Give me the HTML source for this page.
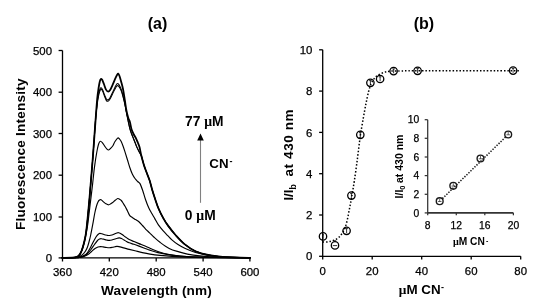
<!DOCTYPE html>
<html><head><meta charset="utf-8"><title>Fluorescence spectra</title>
<style>html,body{margin:0;padding:0;background:#fff;width:550px;height:308px;overflow:hidden}</style>
</head><body>
<svg width="550" height="308" viewBox="0 0 550 308" style="display:block">
<rect width="550" height="308" fill="#fff"/>
<g fill="none" stroke="#000" stroke-linejoin="round" stroke-linecap="round">
<path d="M62.20,257.70 C64.50,257.68 73.03,257.67 76.00,257.60 C78.97,257.53 78.67,257.50 80.00,257.30 C81.33,257.10 82.67,256.87 84.00,256.40 C85.33,255.93 86.75,255.32 88.00,254.50 C89.25,253.68 90.33,252.50 91.50,251.50 C92.67,250.50 93.92,249.25 95.00,248.50 C96.08,247.75 97.08,247.32 98.00,247.00 C98.92,246.68 99.67,246.62 100.50,246.60 C101.33,246.58 102.08,246.77 103.00,246.90 C103.92,247.03 104.92,247.27 106.00,247.40 C107.08,247.53 108.42,247.72 109.50,247.70 C110.58,247.68 111.58,247.47 112.50,247.30 C113.42,247.13 114.27,246.85 115.00,246.70 C115.73,246.55 116.23,246.42 116.90,246.40 C117.57,246.38 118.15,246.43 119.00,246.60 C119.85,246.77 120.92,247.10 122.00,247.40 C123.08,247.70 124.30,248.07 125.50,248.40 C126.70,248.73 127.62,249.00 129.20,249.40 C130.78,249.80 132.82,250.27 135.00,250.80 C137.18,251.33 139.80,252.05 142.30,252.60 C144.80,253.15 147.05,253.63 150.00,254.10 C152.95,254.57 156.33,255.02 160.00,255.40 C163.67,255.78 167.00,256.10 172.00,256.40 C177.00,256.70 182.83,257.00 190.00,257.20 C197.17,257.40 205.00,257.52 215.00,257.60 C225.00,257.68 244.17,257.68 250.00,257.70" stroke-width="1.15"/>
<path d="M62.20,257.70 C64.50,257.68 73.03,257.68 76.00,257.60 C78.97,257.52 78.67,257.47 80.00,257.20 C81.33,256.93 82.75,256.62 84.00,256.00 C85.25,255.38 86.33,254.58 87.50,253.50 C88.67,252.42 89.83,251.00 91.00,249.50 C92.17,248.00 93.42,246.00 94.50,244.50 C95.58,243.00 96.67,241.42 97.50,240.50 C98.33,239.58 98.85,239.30 99.50,239.00 C100.15,238.70 100.65,238.65 101.40,238.70 C102.15,238.75 103.15,239.08 104.00,239.30 C104.85,239.52 105.58,239.82 106.50,240.00 C107.42,240.18 108.50,240.43 109.50,240.40 C110.50,240.37 111.58,240.03 112.50,239.80 C113.42,239.57 114.17,239.27 115.00,239.00 C115.83,238.73 116.77,238.38 117.50,238.20 C118.23,238.02 118.73,237.83 119.40,237.90 C120.07,237.97 120.73,238.25 121.50,238.60 C122.27,238.95 123.17,239.52 124.00,240.00 C124.83,240.48 125.63,241.03 126.50,241.50 C127.37,241.97 127.95,242.33 129.20,242.80 C130.45,243.27 132.37,243.75 134.00,244.30 C135.63,244.85 137.25,245.45 139.00,246.10 C140.75,246.75 142.58,247.48 144.50,248.20 C146.42,248.92 148.25,249.67 150.50,250.40 C152.75,251.13 155.08,251.90 158.00,252.60 C160.92,253.30 164.33,254.02 168.00,254.60 C171.67,255.18 175.50,255.70 180.00,256.10 C184.50,256.50 189.17,256.77 195.00,257.00 C200.83,257.23 205.83,257.38 215.00,257.50 C224.17,257.62 244.17,257.67 250.00,257.70" stroke-width="1.15"/>
<path d="M62.20,257.70 C64.50,257.68 73.03,257.70 76.00,257.60 C78.97,257.50 78.67,257.43 80.00,257.10 C81.33,256.77 82.75,256.37 84.00,255.60 C85.25,254.83 86.42,253.85 87.50,252.50 C88.58,251.15 89.50,249.33 90.50,247.50 C91.50,245.67 92.58,243.25 93.50,241.50 C94.42,239.75 95.25,238.17 96.00,237.00 C96.75,235.83 97.38,235.10 98.00,234.50 C98.62,233.90 99.03,233.52 99.70,233.40 C100.37,233.28 101.20,233.57 102.00,233.80 C102.80,234.03 103.67,234.55 104.50,234.80 C105.33,235.05 106.17,235.18 107.00,235.30 C107.83,235.42 108.67,235.55 109.50,235.50 C110.33,235.45 111.17,235.25 112.00,235.00 C112.83,234.75 113.70,234.33 114.50,234.00 C115.30,233.67 116.12,233.22 116.80,233.00 C117.48,232.78 117.97,232.62 118.60,232.70 C119.23,232.78 119.90,233.12 120.60,233.50 C121.30,233.88 121.98,234.42 122.80,235.00 C123.62,235.58 124.43,236.25 125.50,237.00 C126.57,237.75 127.78,238.75 129.20,239.50 C130.62,240.25 132.37,240.82 134.00,241.50 C135.63,242.18 137.25,242.88 139.00,243.60 C140.75,244.32 142.58,244.98 144.50,245.80 C146.42,246.62 148.15,247.50 150.50,248.50 C152.85,249.50 155.68,250.83 158.60,251.80 C161.52,252.77 164.43,253.60 168.00,254.30 C171.57,255.00 175.50,255.57 180.00,256.00 C184.50,256.43 189.17,256.67 195.00,256.90 C200.83,257.13 205.83,257.27 215.00,257.40 C224.17,257.53 244.17,257.65 250.00,257.70" stroke-width="1.15"/>
<path d="M62.20,257.70 C64.17,257.68 71.37,257.72 74.00,257.60 C76.63,257.48 76.75,257.37 78.00,257.00 C79.25,256.63 80.42,256.15 81.50,255.40 C82.58,254.65 83.58,253.68 84.50,252.50 C85.42,251.32 86.25,250.05 87.00,248.30 C87.75,246.55 88.37,244.30 89.00,242.00 C89.63,239.70 90.17,237.48 90.80,234.50 C91.43,231.52 92.13,227.68 92.80,224.10 C93.47,220.52 94.18,216.02 94.80,213.00 C95.42,209.98 95.97,207.85 96.50,206.00 C97.03,204.15 97.50,202.90 98.00,201.90 C98.50,200.90 98.98,200.37 99.50,200.00 C100.02,199.63 100.48,199.43 101.10,199.70 C101.72,199.97 102.50,200.98 103.20,201.60 C103.90,202.22 104.67,202.97 105.30,203.40 C105.93,203.83 106.42,203.97 107.00,204.20 C107.58,204.43 108.18,204.87 108.80,204.80 C109.42,204.73 110.05,204.18 110.70,203.80 C111.35,203.42 111.95,203.08 112.70,202.50 C113.45,201.92 114.35,200.97 115.20,200.30 C116.05,199.63 117.07,198.68 117.80,198.50 C118.53,198.32 119.02,198.87 119.60,199.20 C120.18,199.53 120.70,199.82 121.30,200.50 C121.90,201.18 122.55,202.30 123.20,203.30 C123.85,204.30 124.48,205.22 125.20,206.50 C125.92,207.78 126.73,209.48 127.50,211.00 C128.27,212.52 129.05,214.55 129.80,215.60 C130.55,216.65 131.05,216.63 132.00,217.30 C132.95,217.97 134.35,218.85 135.50,219.60 C136.65,220.35 137.73,220.82 138.90,221.80 C140.07,222.78 141.35,224.25 142.50,225.50 C143.65,226.75 144.62,228.08 145.80,229.30 C146.98,230.52 148.27,231.52 149.60,232.80 C150.93,234.08 152.07,235.42 153.80,237.00 C155.53,238.58 157.43,240.40 160.00,242.30 C162.57,244.20 166.03,246.80 169.20,248.40 C172.37,250.00 175.97,250.95 179.00,251.90 C182.03,252.85 183.90,253.43 187.40,254.10 C190.90,254.77 195.40,255.42 200.00,255.90 C204.60,256.38 209.17,256.72 215.00,257.00 C220.83,257.28 229.17,257.45 235.00,257.60 C240.83,257.75 247.50,257.85 250.00,257.90" stroke-width="1.15"/>
<path d="M62.20,257.80 C64.00,257.78 70.53,257.82 73.00,257.70 C75.47,257.58 75.92,257.47 77.00,257.10 C78.08,256.73 78.75,256.43 79.50,255.50 C80.25,254.57 80.87,253.08 81.50,251.50 C82.13,249.92 82.72,248.00 83.30,246.00 C83.88,244.00 84.47,241.83 85.00,239.50 C85.53,237.17 86.03,234.58 86.50,232.00 C86.97,229.42 87.38,227.00 87.80,224.00 C88.22,221.00 88.60,217.33 89.00,214.00 C89.40,210.67 89.82,207.17 90.20,204.00 C90.58,200.83 90.92,198.17 91.30,195.00 C91.68,191.83 92.05,189.00 92.50,185.00 C92.95,181.00 93.55,174.83 94.00,171.00 C94.45,167.17 94.82,164.67 95.20,162.00 C95.58,159.33 95.92,157.25 96.30,155.00 C96.68,152.75 97.08,150.42 97.50,148.50 C97.92,146.58 98.32,144.70 98.80,143.50 C99.28,142.30 99.82,141.45 100.40,141.30 C100.98,141.15 101.62,141.85 102.30,142.60 C102.98,143.35 103.77,144.77 104.50,145.80 C105.23,146.83 106.00,148.10 106.70,148.80 C107.40,149.50 108.02,150.10 108.70,150.00 C109.38,149.90 110.10,148.92 110.80,148.20 C111.50,147.48 112.20,146.82 112.90,145.70 C113.60,144.58 114.18,142.80 115.00,141.50 C115.82,140.20 117.03,138.28 117.80,137.90 C118.57,137.52 119.03,138.60 119.60,139.20 C120.17,139.80 120.60,140.28 121.20,141.50 C121.80,142.72 122.52,144.60 123.20,146.50 C123.88,148.40 124.58,150.65 125.30,152.90 C126.02,155.15 126.75,157.57 127.50,160.00 C128.25,162.43 129.00,165.17 129.80,167.50 C130.60,169.83 131.43,172.17 132.30,174.00 C133.17,175.83 134.10,177.25 135.00,178.50 C135.90,179.75 136.87,180.65 137.70,181.50 C138.53,182.35 139.17,182.10 140.00,183.60 C140.83,185.10 141.80,187.90 142.70,190.50 C143.60,193.10 144.42,196.37 145.40,199.20 C146.38,202.03 147.58,205.20 148.60,207.50 C149.62,209.80 150.47,211.15 151.50,213.00 C152.53,214.85 153.65,216.62 154.80,218.60 C155.95,220.58 157.03,222.90 158.40,224.90 C159.77,226.90 161.48,228.85 163.00,230.60 C164.52,232.35 166.02,233.85 167.50,235.40 C168.98,236.95 170.15,238.37 171.90,239.90 C173.65,241.43 175.77,243.15 178.00,244.60 C180.23,246.05 182.38,247.28 185.30,248.60 C188.22,249.92 191.72,251.38 195.50,252.50 C199.28,253.62 203.58,254.58 208.00,255.30 C212.42,256.02 216.67,256.42 222.00,256.80 C227.33,257.18 235.33,257.42 240.00,257.60 C244.67,257.78 248.33,257.85 250.00,257.90" stroke-width="1.15"/>
<path d="M62.20,257.80 C63.83,257.78 69.70,257.80 72.00,257.70 C74.30,257.60 74.83,257.58 76.00,257.20 C77.17,256.82 78.08,256.43 79.00,255.40 C79.92,254.37 80.78,252.65 81.50,251.00 C82.22,249.35 82.72,247.58 83.30,245.50 C83.88,243.42 84.50,241.00 85.00,238.50 C85.50,236.00 85.90,233.50 86.30,230.50 C86.70,227.50 87.03,224.08 87.40,220.50 C87.77,216.92 88.15,212.75 88.50,209.00 C88.85,205.25 89.08,202.83 89.50,198.00 C89.92,193.17 90.45,186.67 91.00,180.00 C91.55,173.33 92.23,165.33 92.80,158.00 C93.37,150.67 93.90,142.83 94.40,136.00 C94.90,129.17 95.30,122.50 95.80,117.00 C96.30,111.50 96.88,106.75 97.40,103.00 C97.92,99.25 98.43,96.63 98.90,94.50 C99.37,92.37 99.82,91.08 100.20,90.20 C100.58,89.32 100.78,89.03 101.20,89.20 C101.62,89.37 102.13,89.98 102.70,91.20 C103.27,92.42 103.98,94.93 104.60,96.50 C105.22,98.07 105.85,99.82 106.40,100.60 C106.95,101.38 107.32,101.43 107.90,101.20 C108.48,100.97 109.15,100.37 109.90,99.20 C110.65,98.03 111.57,95.87 112.40,94.20 C113.23,92.53 114.15,90.58 114.90,89.20 C115.65,87.82 116.32,86.43 116.90,85.90 C117.48,85.37 117.88,85.62 118.40,86.00 C118.92,86.38 119.47,87.23 120.00,88.20 C120.53,89.17 121.05,90.20 121.60,91.80 C122.15,93.40 122.75,95.68 123.30,97.80 C123.85,99.92 124.37,102.00 124.90,104.50 C125.43,107.00 125.97,110.08 126.50,112.80 C127.03,115.52 127.53,118.13 128.10,120.80 C128.67,123.47 129.32,126.60 129.90,128.80 C130.48,131.00 131.02,132.38 131.60,134.00 C132.18,135.62 132.80,137.00 133.40,138.50 C134.00,140.00 134.62,141.53 135.20,143.00 C135.78,144.47 136.27,145.87 136.90,147.30 C137.53,148.73 138.27,150.18 139.00,151.60 C139.73,153.02 140.48,153.57 141.30,155.80 C142.12,158.03 143.02,162.22 143.90,165.00 C144.78,167.78 145.62,169.83 146.60,172.50 C147.58,175.17 148.88,178.17 149.80,181.00 C150.72,183.83 151.20,186.47 152.10,189.50 C153.00,192.53 154.13,196.03 155.20,199.20 C156.27,202.37 157.12,205.27 158.50,208.50 C159.88,211.73 161.88,215.70 163.50,218.60 C165.12,221.50 166.20,223.17 168.20,225.90 C170.20,228.63 172.78,231.97 175.50,235.00 C178.22,238.03 181.17,241.40 184.50,244.10 C187.83,246.80 191.55,249.38 195.50,251.20 C199.45,253.02 203.67,254.07 208.20,255.00 C212.73,255.93 217.40,256.37 222.70,256.80 C228.00,257.23 235.45,257.43 240.00,257.60 C244.55,257.77 248.33,257.77 250.00,257.80" stroke-width="1.05"/>
<path d="M62.20,257.80 C63.83,257.78 69.70,257.80 72.00,257.70 C74.30,257.60 74.83,257.58 76.00,257.20 C77.17,256.82 78.08,256.43 79.00,255.40 C79.92,254.37 80.78,252.65 81.50,251.00 C82.22,249.35 82.72,247.58 83.30,245.50 C83.88,243.42 84.50,241.00 85.00,238.50 C85.50,236.00 85.90,233.50 86.30,230.50 C86.70,227.50 87.03,224.08 87.40,220.50 C87.77,216.92 88.15,212.75 88.50,209.00 C88.85,205.25 89.08,202.83 89.50,198.00 C89.92,193.17 90.45,186.67 91.00,180.00 C91.55,173.33 92.23,165.33 92.80,158.00 C93.37,150.67 93.90,142.83 94.40,136.00 C94.90,129.17 95.32,122.67 95.80,117.00 C96.28,111.33 96.80,106.00 97.30,102.00 C97.80,98.00 98.33,95.20 98.80,93.00 C99.27,90.80 99.72,89.67 100.10,88.80 C100.48,87.93 100.68,87.63 101.10,87.80 C101.52,87.97 102.02,88.60 102.60,89.80 C103.18,91.00 103.95,93.43 104.60,95.00 C105.25,96.57 105.93,98.40 106.50,99.20 C107.07,100.00 107.42,100.03 108.00,99.80 C108.58,99.57 109.25,99.02 110.00,97.80 C110.75,96.58 111.67,94.27 112.50,92.50 C113.33,90.73 114.27,88.65 115.00,87.20 C115.73,85.75 116.33,84.33 116.90,83.80 C117.47,83.27 117.88,83.55 118.40,84.00 C118.92,84.45 119.47,85.42 120.00,86.50 C120.53,87.58 121.05,88.75 121.60,90.50 C122.15,92.25 122.75,94.75 123.30,97.00 C123.85,99.25 124.37,101.42 124.90,104.00 C125.43,106.58 125.97,109.75 126.50,112.50 C127.03,115.25 127.53,117.83 128.10,120.50 C128.67,123.17 129.32,126.28 129.90,128.50 C130.48,130.72 131.02,132.17 131.60,133.80 C132.18,135.43 132.80,136.80 133.40,138.30 C134.00,139.80 134.62,141.33 135.20,142.80 C135.78,144.27 136.27,145.65 136.90,147.10 C137.53,148.55 138.27,150.05 139.00,151.50 C139.73,152.95 140.48,153.55 141.30,155.80 C142.12,158.05 143.02,162.22 143.90,165.00 C144.78,167.78 145.62,169.83 146.60,172.50 C147.58,175.17 148.88,178.17 149.80,181.00 C150.72,183.83 151.20,186.47 152.10,189.50 C153.00,192.53 154.13,196.03 155.20,199.20 C156.27,202.37 157.12,205.27 158.50,208.50 C159.88,211.73 161.88,215.70 163.50,218.60 C165.12,221.50 166.20,223.17 168.20,225.90 C170.20,228.63 172.78,231.97 175.50,235.00 C178.22,238.03 181.17,241.40 184.50,244.10 C187.83,246.80 191.55,249.38 195.50,251.20 C199.45,253.02 203.67,254.07 208.20,255.00 C212.73,255.93 217.40,256.37 222.70,256.80 C228.00,257.23 235.45,257.43 240.00,257.60 C244.55,257.77 248.33,257.77 250.00,257.80" stroke-width="1.05"/>
<path d="M62.20,257.80 C63.83,257.78 69.70,257.80 72.00,257.70 C74.30,257.60 74.83,257.58 76.00,257.20 C77.17,256.82 78.08,256.43 79.00,255.40 C79.92,254.37 80.78,252.65 81.50,251.00 C82.22,249.35 82.72,247.58 83.30,245.50 C83.88,243.42 84.50,241.00 85.00,238.50 C85.50,236.00 85.90,233.50 86.30,230.50 C86.70,227.50 87.03,224.08 87.40,220.50 C87.77,216.92 88.15,212.75 88.50,209.00 C88.85,205.25 89.08,202.83 89.50,198.00 C89.92,193.17 90.45,186.67 91.00,180.00 C91.55,173.33 92.23,165.33 92.80,158.00 C93.37,150.67 93.90,142.83 94.40,136.00 C94.90,129.17 95.33,123.17 95.80,117.00 C96.27,110.83 96.73,103.83 97.20,99.00 C97.67,94.17 98.17,90.92 98.60,88.00 C99.03,85.08 99.42,83.00 99.80,81.50 C100.18,80.00 100.50,79.28 100.90,79.00 C101.30,78.72 101.68,78.92 102.20,79.80 C102.72,80.68 103.37,82.67 104.00,84.30 C104.63,85.93 105.30,88.38 106.00,89.60 C106.70,90.82 107.48,91.57 108.20,91.60 C108.92,91.63 109.58,90.87 110.30,89.80 C111.02,88.73 111.72,86.97 112.50,85.20 C113.28,83.43 114.25,80.90 115.00,79.20 C115.75,77.50 116.47,75.93 117.00,75.00 C117.53,74.07 117.78,73.43 118.20,73.60 C118.62,73.77 119.02,74.68 119.50,76.00 C119.98,77.32 120.52,79.33 121.10,81.50 C121.68,83.67 122.38,85.92 123.00,89.00 C123.62,92.08 124.23,96.42 124.80,100.00 C125.37,103.58 125.82,107.50 126.40,110.50 C126.98,113.50 127.72,116.08 128.30,118.00 C128.88,119.92 129.35,120.08 129.90,122.00 C130.45,123.92 130.95,127.42 131.60,129.50 C132.25,131.58 133.07,133.03 133.80,134.50 C134.53,135.97 135.33,136.97 136.00,138.30 C136.67,139.63 137.22,141.03 137.80,142.50 C138.38,143.97 138.92,144.93 139.50,147.10 C140.08,149.27 140.57,152.52 141.30,155.50 C142.03,158.48 143.02,162.17 143.90,165.00 C144.78,167.83 145.62,169.83 146.60,172.50 C147.58,175.17 148.88,178.17 149.80,181.00 C150.72,183.83 151.20,186.47 152.10,189.50 C153.00,192.53 154.13,196.03 155.20,199.20 C156.27,202.37 157.12,205.27 158.50,208.50 C159.88,211.73 161.88,215.70 163.50,218.60 C165.12,221.50 166.20,223.17 168.20,225.90 C170.20,228.63 172.78,231.97 175.50,235.00 C178.22,238.03 181.17,241.40 184.50,244.10 C187.83,246.80 191.55,249.38 195.50,251.20 C199.45,253.02 203.67,254.07 208.20,255.00 C212.73,255.93 217.40,256.37 222.70,256.80 C228.00,257.23 235.45,257.43 240.00,257.60 C244.55,257.77 248.33,257.77 250.00,257.80" stroke-width="1.80"/>
</g>
<g stroke="#000" stroke-width="1.3" fill="none">
<path d="M62.5,50.5 V257.9 H249.9"/>
<path d="M58.6,257.9 H62.5"/>
<path d="M58.6,217.0 H62.5"/>
<path d="M58.6,175.2 H62.5"/>
<path d="M58.6,133.5 H62.5"/>
<path d="M58.6,92.2 H62.5"/>
<path d="M58.6,50.5 H62.5"/>
<path d="M62.5,257.9 V261.5"/>
<path d="M109.3,257.9 V261.5"/>
<path d="M156.2,257.9 V261.5"/>
<path d="M203.1,257.9 V261.5"/>
<path d="M249.9,257.9 V261.5"/>
</g>
<g stroke="#000" stroke-width="1.3" fill="none">
<path d="M322.7,49.8 V256.3 H520.7"/>
<path d="M319.1,256.3 H322.7"/>
<path d="M319.1,215.0 H322.7"/>
<path d="M319.1,173.7 H322.7"/>
<path d="M319.1,132.4 H322.7"/>
<path d="M319.1,91.1 H322.7"/>
<path d="M319.1,49.8 H322.7"/>
<path d="M322.7,256.3 V259.5"/>
<path d="M372.2,256.3 V259.5"/>
<path d="M421.7,256.3 V259.5"/>
<path d="M471.2,256.3 V259.5"/>
<path d="M520.7,256.3 V259.5"/>
</g>
<g stroke="#333" stroke-width="1.25" fill="none">
<path d="M427.7,119.7 V212.9"/>
<path d="M427.7,212.9 H513.4" stroke-width="1.6"/>
<path d="M424.7,212.9 H427.7"/>
<path d="M424.7,194.3 H427.7"/>
<path d="M424.7,175.6 H427.7"/>
<path d="M424.7,157.0 H427.7"/>
<path d="M424.7,138.3 H427.7"/>
<path d="M424.7,119.7 H427.7"/>
<path d="M427.7,212.9 V215.3"/>
<path d="M456.3,212.9 V215.3"/>
<path d="M484.8,212.9 V215.3"/>
<path d="M513.4,212.9 V215.3"/>
</g>
<path d="M322.70,242.00 C323.20,242.00 324.65,242.05 325.70,242.00 C326.75,241.95 327.92,241.90 329.00,241.70 C330.08,241.50 331.13,241.15 332.20,240.80 C333.27,240.45 334.35,240.13 335.40,239.60 C336.45,239.07 337.57,238.38 338.50,237.60 C339.43,236.82 340.20,235.90 341.00,234.90 C341.80,233.90 342.57,232.95 343.30,231.60 C344.03,230.25 344.75,228.68 345.40,226.80 C346.05,224.92 346.67,222.57 347.20,220.30 C347.73,218.03 348.15,215.50 348.60,213.20 C349.05,210.90 349.47,208.77 349.90,206.50 C350.33,204.23 350.75,202.10 351.20,199.60 C351.65,197.10 352.07,194.68 352.60,191.50 C353.13,188.32 353.67,185.42 354.40,180.50 C355.13,175.58 356.15,168.42 357.00,162.00 C357.85,155.58 358.83,147.08 359.50,142.00 C360.17,136.92 360.33,135.67 361.00,131.50 C361.67,127.33 362.67,121.67 363.50,117.00 C364.33,112.33 365.15,107.75 366.00,103.50 C366.85,99.25 367.77,94.75 368.60,91.50 C369.43,88.25 370.18,86.00 371.00,84.00 C371.82,82.00 372.67,80.73 373.50,79.50 C374.33,78.27 375.08,77.42 376.00,76.60 C376.92,75.78 377.83,75.23 379.00,74.60 C380.17,73.97 381.75,73.28 383.00,72.80 C384.25,72.32 385.33,71.97 386.50,71.70 C387.67,71.43 388.58,71.32 390.00,71.20 C391.42,71.08 390.00,71.07 395.00,71.00 C400.00,70.93 399.25,70.85 420.00,70.80 C440.75,70.75 502.92,70.72 519.50,70.70" fill="none" stroke="#000" stroke-width="1.5" stroke-dasharray="1.5 1.9"/>
<g fill="none" stroke="#000" stroke-width="1.3">
<circle cx="323.0" cy="236.4" r="3.7"/>
<circle cx="335.0" cy="245.4" r="3.7"/>
<circle cx="346.6" cy="230.8" r="3.7"/>
<circle cx="351.4" cy="195.6" r="3.7"/>
<circle cx="360.3" cy="134.8" r="3.7"/>
<circle cx="370.4" cy="82.8" r="3.7"/>
<circle cx="380.1" cy="79.0" r="3.7"/>
<circle cx="393.6" cy="71.1" r="3.7"/>
<circle cx="417.6" cy="70.8" r="3.7"/>
<circle cx="513.1" cy="70.6" r="3.7"/>
</g>
<g stroke="#000" stroke-width="0.8" fill="none">
<path d="M323.0,235.9 V238.8 M322.0,234.6 Q324.6,233.8 323.0,235.9"/>
<path d="M332.8,245.6 H337.2 M333.8,239.8 L335.0,241.5 L336.2,239.8"/>
<path d="M346.6,228.6 V233.0 M345.3,228.6 H347.9"/>
<path d="M351.4,193.4 V197.8 M350.1,193.4 H352.7"/>
<path d="M360.3,132.6 V137.0 M359.0,132.6 H361.6"/>
<path d="M370.4,80.6 V85.0 M369.1,80.6 H371.7"/>
<path d="M380.1,76.8 V81.2 M378.8,76.8 H381.4"/>
<path d="M393.6,68.9 V73.3 M392.3,68.9 H394.9"/>
<path d="M417.6,68.6 V73.0 M416.3,68.6 H418.9"/>
<path d="M513.1,68.4 V72.8 M511.8,68.4 H514.4"/>
</g>
<path d="M442.4,198.6 L505.6,137.0" stroke="#1a1a1a" stroke-width="1.5" stroke-dasharray="1.4 1.4" fill="none"/>
<g fill="none" stroke="#1a1a1a" stroke-width="1.4">
<circle cx="439.7" cy="201.2" r="3.4"/>
<circle cx="453.3" cy="185.8" r="3.4"/>
<circle cx="480.5" cy="158.5" r="3.4"/>
<circle cx="508.2" cy="134.5" r="3.4"/>
</g>
<g stroke="#222" stroke-width="0.7" fill="none">
<path d="M437.9,201.5 H441.5 M439.7,201.5 V198.6"/>
<path d="M451.5,186.1 H455.1 M453.3,186.1 V183.2"/>
<path d="M478.7,158.8 H482.3 M480.5,158.8 V155.9"/>
<path d="M506.4,134.8 H510.0 M508.2,134.8 V131.9"/>
</g>
<path d="M200.5,140 V202.8" stroke="#808080" stroke-width="1.1" fill="none"/>
<path d="M200.5,133.6 L197.2,140.6 L203.8,140.6 Z" fill="#000"/>
<g font-family="'Liberation Sans', Arial, Helvetica, sans-serif" fill="#000">
<text x="52.0" y="262.0" font-size="11.4" font-weight="normal" text-anchor="end"  stroke="#000" stroke-width="0.25">0</text>
<text x="52.0" y="221.1" font-size="11.4" font-weight="normal" text-anchor="end"  stroke="#000" stroke-width="0.25">100</text>
<text x="52.0" y="179.3" font-size="11.4" font-weight="normal" text-anchor="end"  stroke="#000" stroke-width="0.25">200</text>
<text x="52.0" y="137.6" font-size="11.4" font-weight="normal" text-anchor="end"  stroke="#000" stroke-width="0.25">300</text>
<text x="52.0" y="96.3" font-size="11.4" font-weight="normal" text-anchor="end"  stroke="#000" stroke-width="0.25">400</text>
<text x="52.0" y="54.6" font-size="11.4" font-weight="normal" text-anchor="end"  stroke="#000" stroke-width="0.25">500</text>
<text x="62.5" y="276.1" font-size="11.4" font-weight="normal" text-anchor="middle"  stroke="#000" stroke-width="0.25">360</text>
<text x="109.3" y="276.1" font-size="11.4" font-weight="normal" text-anchor="middle"  stroke="#000" stroke-width="0.25">420</text>
<text x="156.2" y="276.1" font-size="11.4" font-weight="normal" text-anchor="middle"  stroke="#000" stroke-width="0.25">480</text>
<text x="203.1" y="276.1" font-size="11.4" font-weight="normal" text-anchor="middle"  stroke="#000" stroke-width="0.25">540</text>
<text x="249.9" y="276.1" font-size="11.4" font-weight="normal" text-anchor="middle"  stroke="#000" stroke-width="0.25">600</text>
<text x="312.4" y="260.4" font-size="11.4" font-weight="normal" text-anchor="end"  stroke="#000" stroke-width="0.25">0</text>
<text x="312.4" y="219.1" font-size="11.4" font-weight="normal" text-anchor="end"  stroke="#000" stroke-width="0.25">2</text>
<text x="312.4" y="177.8" font-size="11.4" font-weight="normal" text-anchor="end"  stroke="#000" stroke-width="0.25">4</text>
<text x="312.4" y="136.5" font-size="11.4" font-weight="normal" text-anchor="end"  stroke="#000" stroke-width="0.25">6</text>
<text x="312.4" y="95.2" font-size="11.4" font-weight="normal" text-anchor="end"  stroke="#000" stroke-width="0.25">8</text>
<text x="312.4" y="53.9" font-size="11.4" font-weight="normal" text-anchor="end"  stroke="#000" stroke-width="0.25">10</text>
<text x="322.7" y="275.1" font-size="11.4" font-weight="normal" text-anchor="middle"  stroke="#000" stroke-width="0.25">0</text>
<text x="372.2" y="275.1" font-size="11.4" font-weight="normal" text-anchor="middle"  stroke="#000" stroke-width="0.25">20</text>
<text x="421.7" y="275.1" font-size="11.4" font-weight="normal" text-anchor="middle"  stroke="#000" stroke-width="0.25">40</text>
<text x="471.2" y="275.1" font-size="11.4" font-weight="normal" text-anchor="middle"  stroke="#000" stroke-width="0.25">60</text>
<text x="520.7" y="275.1" font-size="11.4" font-weight="normal" text-anchor="middle"  stroke="#000" stroke-width="0.25">80</text>
<text x="419.3" y="216.6" font-size="10.3" font-weight="normal" text-anchor="end"  stroke="#000" stroke-width="0.25">0</text>
<text x="419.3" y="198.0" font-size="10.3" font-weight="normal" text-anchor="end"  stroke="#000" stroke-width="0.25">2</text>
<text x="419.3" y="179.3" font-size="10.3" font-weight="normal" text-anchor="end"  stroke="#000" stroke-width="0.25">4</text>
<text x="419.3" y="160.7" font-size="10.3" font-weight="normal" text-anchor="end"  stroke="#000" stroke-width="0.25">6</text>
<text x="419.3" y="142.0" font-size="10.3" font-weight="normal" text-anchor="end"  stroke="#000" stroke-width="0.25">8</text>
<text x="419.3" y="123.4" font-size="10.3" font-weight="normal" text-anchor="end"  stroke="#000" stroke-width="0.25">10</text>
<text x="427.7" y="228.7" font-size="10.3" font-weight="normal" text-anchor="middle"  stroke="#000" stroke-width="0.25">8</text>
<text x="456.3" y="228.7" font-size="10.3" font-weight="normal" text-anchor="middle"  stroke="#000" stroke-width="0.25">12</text>
<text x="484.8" y="228.7" font-size="10.3" font-weight="normal" text-anchor="middle"  stroke="#000" stroke-width="0.25">16</text>
<text x="513.4" y="228.7" font-size="10.3" font-weight="normal" text-anchor="middle"  stroke="#000" stroke-width="0.25">20</text>
<text x="157.5" y="28.8" font-size="16" font-weight="bold" text-anchor="middle" >(a)</text>
<text x="423.9" y="29.3" font-size="16" font-weight="bold" text-anchor="middle" >(b)</text>
<text x="156.5" y="294.7" font-size="13.6" font-weight="bold" text-anchor="middle" letter-spacing="0.12">Wavelength (nm)</text>
<text transform="translate(25.3,154.1) rotate(-90)" x="0" y="0" font-size="13.6" font-weight="bold" letter-spacing="0.2" text-anchor="middle">Fluorescence Intensity</text>
<text x="398.8" y="294" font-size="13.4" font-weight="bold"><tspan font-family="Liberation Serif, serif">μ</tspan>M CN</text>
<text x="441" y="290" font-size="9" font-weight="bold">-</text>
<text transform="translate(292.6,200.5) rotate(-90)" x="0" y="0" font-size="13" font-weight="bold">I/I<tspan font-size="9.2" dy="3.2">b</tspan><tspan x="24.0" dy="-3.2" font-size="13.5" letter-spacing="0.6">at 430 nm</tspan></text>
<text transform="translate(402.8,198.4) rotate(-90)" x="0" y="0" font-size="10.5" font-weight="bold">I/I<tspan font-size="7.5" dy="2.4">0</tspan><tspan x="15.4" dy="-2.4">at 430 nm</tspan></text>
<text x="453" y="245.3" font-size="10.2" font-weight="bold"><tspan font-family="Liberation Serif, serif">μ</tspan>M CN</text>
<text x="486" y="242.6" font-size="7" font-weight="bold">-</text>
<text x="185" y="126" font-size="13.8" font-weight="bold">77 <tspan font-family="Liberation Serif, serif">μ</tspan>M</text>
<text x="209.3" y="168.2" font-size="13.3" font-weight="bold">CN</text>
<text x="229.5" y="164" font-size="9" font-weight="bold">-</text>
<text x="184.8" y="219.8" font-size="13.8" font-weight="bold">0 <tspan font-family="Liberation Serif, serif">μ</tspan>M</text>
</g>
</svg>
</body></html>
